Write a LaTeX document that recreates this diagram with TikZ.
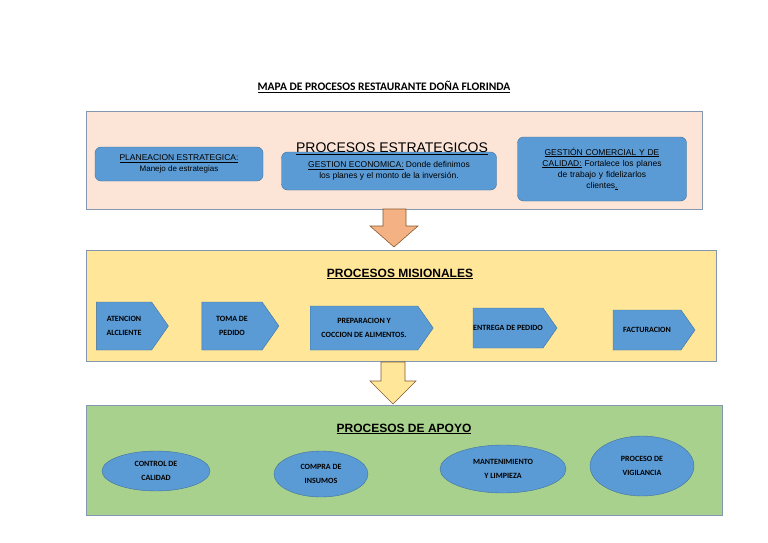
\documentclass[tikz,border=0pt]{standalone}
\usepackage{fontspec}
\setmainfont{Carlito}
\newfontfamily\arialfont{Liberation Sans}
\usetikzlibrary{shapes.geometric,shapes.symbols}
\definecolor{peach}{HTML}{FCE4D6}
\definecolor{sand}{HTML}{FFE699}
\definecolor{leaf}{HTML}{A9D18E}
\definecolor{boxblue}{HTML}{5B9BD5}
\definecolor{edgeblue}{HTML}{41719C}
\definecolor{rimgray}{HTML}{8497B0}
\definecolor{orangearrow}{HTML}{F4B183}
\definecolor{yellowarrow}{HTML}{FFE699}
\tikzset{
  panel/.style={draw=rimgray, line width=1pt},
  card/.style={draw=edgeblue, fill=boxblue, rounded corners=6pt, align=center, font=\arialfont\fontsize{8.5}{11}\selectfont, inner sep=2pt},
  procstep/.style={draw=edgeblue, fill=boxblue, align=center, font=\bfseries\fontsize{8}{14}\selectfont},
  blob/.style={ellipse, draw=edgeblue, fill=boxblue, align=center, font=\bfseries\fontsize{8}{14}\selectfont, inner sep=0pt},
  head/.style={font=\arialfont\bfseries\fontsize{12}{14}\selectfont},
  downarrow/.style={draw=brown!70!black, line width=0.6pt}
}
\begin{document}
\begin{tikzpicture}[x=1pt,y=-1pt]
  \useasboundingbox (0,0) rectangle (768,543);

  \node[font=\bfseries\fontsize{11.5}{13}\selectfont] (title) at (384,87) {\underline{MAPA DE PROCESOS RESTAURANTE DOÑA FLORINDA}};

  % estrategicos
  \draw[panel, fill=peach] (86,111) rectangle (702,209);
  \node[card, minimum width=168pt, minimum height=34pt] (plan) at (179,164) {\underline{PLANEACION ESTRATEGICA:}\\ \fontsize{8}{10}\selectfont Manejo de estrategias};
  \node[card, minimum width=215pt, minimum height=38pt] (econ) at (389,171) {\underline{GESTION ECONOMICA:} Donde definimos\\ los planes y el monto de la inversión.};
  \node[card, minimum width=169pt, minimum height=64pt, text width=162pt] (comer) at (602,169) {\underline{GESTIÓN COMERCIAL Y DE}\\ \underline{CALIDAD:} Fortalece los planes\\ de trabajo y fidelizarlos\\ clientes\underline{.}};
  \node[font=\arialfont\fontsize{14}{16}\selectfont] (estr) at (392,149) {\underline{PROCESOS ESTRATEGICOS}};

  \draw[downarrow, fill=orangearrow] (383,209) -- (406,209) -- (406,226) -- (418,226) -- (394,247) -- (370,226) -- (383,226) -- cycle;

  % misionales
  \draw[panel, fill=sand] (86,250) rectangle (716,361);
  \node[head] (mis) at (400,274) {\underline{PROCESOS MISIONALES}};
  \foreach \nm/\cx/\cy/\w/\h/\txt in {
      aten/124/326/72/48/{ATENCION\\ALCLIENTE},
      toma/232/326/77/48/{TOMA DE\\PEDIDO},
      prep/364/328/123/44/{PREPARACION Y\\COCCION DE ALIMENTOS.},
      entr/508/328/84/40/{ENTREGA DE PEDIDO},
      fact/647/330/82/40/{FACTURACION}}
    \node[procstep, signal, signal to=east, signal pointer angle=110, minimum width=\w pt, minimum height=\h pt, inner sep=0pt] (\nm) at (\cx,\cy) {\txt};

  \draw[downarrow, fill=yellowarrow] (381,362) -- (405,362) -- (405,381) -- (416,381) -- (393,404) -- (370,381) -- (381,381) -- cycle;

  % apoyo
  \draw[panel, fill=leaf] (86,405) rectangle (722,515);
  \node[head] (apo) at (404,429) {\underline{PROCESOS DE APOYO}};
  \node[blob, minimum width=108pt, minimum height=40pt] (ctrl) at (156,471) {CONTROL DE\\CALIDAD};
  \node[blob, minimum width=94pt, minimum height=46pt] (comp) at (321,474) {COMPRA DE\\INSUMOS};
  \node[blob, minimum width=126pt, minimum height=48pt] (mant) at (503,469) {MANTENIMIENTO\\Y LIMPIEZA};
  \node[blob, minimum width=104pt, minimum height=60pt] (vigi) at (642,466) {PROCESO DE\\VIGILANCIA};
\end{tikzpicture}
\end{document}
